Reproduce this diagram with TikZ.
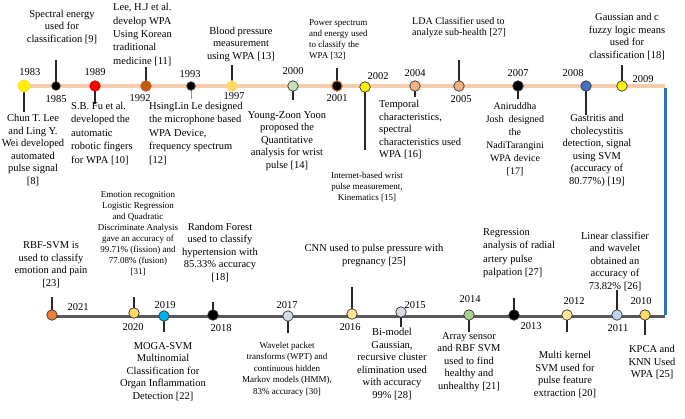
\documentclass[tikz,border=0pt]{standalone}
\usepackage{fontspec}
\setmainfont{Liberation Serif}
\definecolor{peach}{RGB}{248,203,173}
\definecolor{ribbon}{RGB}{46,117,182}
\definecolor{slate}{RGB}{89,89,89}
\definecolor{rust}{RGB}{197,90,17}
\definecolor{tangerine}{RGB}{237,125,49}
\definecolor{salmon}{RGB}{244,177,131}
\definecolor{butter}{RGB}{255,217,102}
\definecolor{cream}{RGB}{255,230,153}
\definecolor{sage}{RGB}{197,224,180}
\definecolor{leaf}{RGB}{169,209,142}
\definecolor{royal}{RGB}{68,114,196}
\definecolor{sky}{RGB}{0,176,240}
\definecolor{mist}{RGB}{214,220,229}
\definecolor{ice}{RGB}{189,215,238}
\definecolor{ink}{RGB}{40,40,40}

\begin{document}
\begin{tikzpicture}[x=1pt,y=-1pt,
  dot/.style={circle,draw=black!80,line width=0.7pt,minimum size=10.5pt,inner sep=0pt},
  yr/.style={font=\fontsize{10.5}{12}\selectfont,inner sep=0pt},
  txt/.style={align=center,font=\fontsize{10.5}{12.6}\selectfont,inner sep=0pt},
  loose/.style={align=left,font=\fontsize{10.5}{13.4}\selectfont,inner sep=0pt},
  note/.style={align=center,font=\fontsize{9}{11}\selectfont,inner sep=0pt},
  stalk/.style={draw=ink,line width=1.1pt}]
\useasboundingbox (0,0) rectangle (685,418);

% the ribbon
\coordinate (tl) at (20,86);
\coordinate (tr) at (665,86);
\coordinate (br) at (665,316);
\coordinate (bl) at (52,316);
\draw[peach,line width=3.5pt] (tl) -- (tr);
\draw[ribbon,line width=3pt] ([yshift=-1.5pt]tr) -- ([yshift=1.5pt]br);
\draw[slate,line width=3pt] (br) -- (bl);

% upper row: stems (drawn first, dots sit on top)
\coordinate (c1983) at (24,86);   \coordinate (s1983) at (24,112);
\coordinate (c1985) at (56,86);   \coordinate (s1985) at (56,60);
\coordinate (c1989) at (95,86);   \coordinate (s1989) at (95,104);
\coordinate (c1992) at (146,86);  \coordinate (s1992) at (146,67);
\coordinate (c1993) at (191,86);  \coordinate (s1993) at (191,99);
\coordinate (c1997) at (232,86);  \coordinate (s1997) at (232,65);
\coordinate (c2000) at (293,86);  \coordinate (s2000) at (293,100);
\coordinate (c2001) at (337,86);  \coordinate (s2001) at (337,68);
\coordinate (c2002) at (365,87);  \coordinate (s2002) at (365,150);
\coordinate (c2004) at (415,86);  \coordinate (s2004) at (415,97);
\coordinate (c2005) at (459,86);  \coordinate (s2005) at (459,60);
\coordinate (c2007) at (518,86);  \coordinate (s2007) at (518,99);
\coordinate (c2008) at (586,86);  \coordinate (s2008) at (586,115);
\coordinate (c2009) at (622,86);  \coordinate (s2009) at (622,65);
\draw[stalk] (c1983) -- (s1983);
\draw[stalk] (c1985) -- (s1985);
\draw[stalk] (c1989) -- (s1989);
\draw[stalk] (c1992) -- (s1992);
\draw[stalk,draw=tangerine,line width=0.9pt] (c1993) -- (s1993);
\draw[stalk] (c1997) -- (s1997);
\draw[stalk] (c2000) -- (s2000);
\draw[stalk] (c2001) -- (s2001);
\draw[stalk] (c2002) -- (s2002);
\draw[stalk] (c2004) -- (s2004);
\draw[stalk] (c2005) -- (s2005);
\draw[stalk] (c2007) -- (s2007);
\draw[stalk] (c2008) -- (s2008);
\draw[stalk] (c2009) -- (s2009);

% upper row: dots
\node[dot,fill=yellow,draw=butter,minimum size=12pt] (d1983) at (c1983) {};
\node[dot,fill=black,minimum size=8.5pt] (d1985) at (c1985) {};
\node[dot,fill=red,draw=red!80!black] (d1989) at (c1989) {};
\node[dot,fill=rust,draw=rust] (d1992) at (c1992) {};
\node[dot,fill=black,minimum size=8.5pt] (d1993) at (c1993) {};
\node[dot,fill=butter,draw=butter] (d1997) at (c1997) {};
\node[dot,fill=sage] (d2000) at (c2000) {};
\node[dot,fill=black,draw=tangerine,line width=1pt] (d2001) at (c2001) {};
\node[dot,fill=yellow] (d2002) at (c2002) {};
\node[dot,fill=salmon] (d2004) at (c2004) {};
\node[dot,fill=salmon] (d2005) at (c2005) {};
\node[dot,fill=black] (d2007) at (c2007) {};
\node[dot,fill=royal] (d2008) at (c2008) {};
\node[dot,fill=yellow] (d2009) at (c2009) {};

% upper row: years
\node[yr] (y1983) at (30,72) {1983};
\node[yr] (y1985) at (56,99) {1985};
\node[yr] (y1989) at (95,72) {1989};
\node[yr] (y1992) at (140,98) {1992};
\node[yr] (y1993) at (190,74) {1993};
\node[yr] (y1997) at (234,96) {1997};
\node[yr] (y2000) at (293,71) {2000};
\node[yr] (y2001) at (337,98) {2001};
\node[yr] (y2002) at (378,76) {2002};
\node[yr] (y2004) at (415,73) {2004};
\node[yr] (y2005) at (461,99) {2005};
\node[yr] (y2007) at (518,73) {2007};
\node[yr] (y2008) at (573,73) {2008};
\node[yr] (y2009) at (643,79) {2009};

% upper row: events
\node[txt,anchor=north] (t1983) at (33,114) {Chun T. Lee\\and Ling Y.\\Wei developed\\automated\\pulse signal\\{[8]}};
\node[txt,anchor=south] (t1985) at (62,44) {Spectral energy\\used for\\classification [9]};
\node[loose,anchor=north west] (t1989) at (71,102) {S.B. Fu et al.\\developed the\\automatic\\robotic fingers\\for WPA [10]};
\node[loose,anchor=south west] (t1992) at (113,66) {Lee, H.J et al.\\develop WPA\\Using Korean\\traditional\\medicine [11]};
\node[loose,anchor=north west] (t1993) at (149,102) {HsingLin Le designed\\the microphone based\\WPA Device,\\frequency spectrum\\{[12]}};
\node[txt,anchor=south] (t1997) at (241,62) {Blood pressure\\measurement\\using WPA [13]};
\node[txt,anchor=north] (t2000) at (287,111) {Young-Zoon Yoon\\proposed the\\Quantitative\\analysis for wrist\\pulse [14]};
\node[note,align=left,anchor=south west] (t2001) at (309,60) {Power spectrum\\and energy used\\to classify the\\WPA [32]};
\node[note,anchor=north] (t2002) at (367,172) {Internet-based wrist\\pulse measurement,\\Kinematics [15]};
\node[txt,align=left,anchor=north west] (t2004) at (379,100) {Temporal\\characteristics,\\spectral\\characteristics used\\WPA [16]};
\node[txt,align=left,font=\fontsize{10}{11.5}\selectfont,anchor=south west] (t2005) at (412,38) {LDA Classifier used to\\analyze sub-health [27]};
\node[txt,font=\fontsize{10}{13}\selectfont,anchor=north] (t2007) at (515,102) {Aniruddha\\Josh~ designed\\the\\NadiTarangini\\WPA device\\{[17]}};
\node[txt,anchor=north] (t2008) at (597,114) {Gastritis and\\cholecystitis\\detection, signal\\using SVM\\(accuracy of\\80.77\%) [19]};
\node[txt,anchor=south] (t2009) at (627,60) {Gaussian and c\\fuzzy logic means\\used for\\classification [18]};

% lower row: stems
\coordinate (c2021) at (52,315);  \coordinate (s2021) at (52,297);
\coordinate (c2020) at (134,313); \coordinate (s2020) at (134,297);
\coordinate (c2019) at (164,316); \coordinate (s2019) at (164,332);
\coordinate (c2018) at (213,315); \coordinate (s2018) at (213,302);
\coordinate (c2017) at (288,316); \coordinate (s2017) at (288,333);
\coordinate (c2016) at (352,314); \coordinate (s2016) at (352,287);
\coordinate (c2015) at (401,312); \coordinate (s2015) at (401,327);
\coordinate (c2014) at (469,315); \coordinate (s2014) at (469,332);
\coordinate (c2013) at (514,315); \coordinate (s2013) at (514,298);
\coordinate (c2012) at (567,315); \coordinate (s2012) at (567,332);
\coordinate (c2011) at (617,315); \coordinate (s2011) at (617,290);
\coordinate (c2010) at (645,315); \coordinate (s2010) at (645,335);
\draw[stalk] (c2021) -- (s2021);
\draw[stalk] (c2020) -- (s2020);
\draw[stalk] (c2019) -- (s2019);
\draw[stalk] (c2018) -- (s2018);
\draw[stalk] (c2017) -- (s2017);
\draw[stalk] (c2016) -- (s2016);
\draw[stalk] (c2015) -- (s2015);
\draw[stalk] (c2014) -- (s2014);
\draw[stalk] (c2013) -- (s2013);
\draw[stalk] (c2012) -- (s2012);
\draw[stalk] (c2011) -- (s2011);
\draw[stalk] (c2010) -- (s2010);

% lower row: dots
\node[dot,fill=tangerine] (d2021) at (c2021) {};
\node[dot,fill=butter] (d2020) at (c2020) {};
\node[dot,fill=sky] (d2019) at (c2019) {};
\node[dot,fill=black] (d2018) at (c2018) {};
\node[dot,fill=mist] (d2017) at (c2017) {};
\node[dot,fill=cream] (d2016) at (c2016) {};
\node[dot,fill=mist] (d2015) at (c2015) {};
\node[dot,fill=leaf] (d2014) at (c2014) {};
\node[dot,fill=black] (d2013) at (c2013) {};
\node[dot,fill=cream] (d2012) at (c2012) {};
\node[dot,fill=ice] (d2011) at (c2011) {};
\node[dot,fill=butter] (d2010) at (c2010) {};

% lower row: years
\node[yr] (y2021) at (78,307) {2021};
\node[yr,fill=white,inner sep=1.5pt] (y2020) at (133,327) {2020};
\node[yr] (y2019) at (165,305) {2019};
\node[yr] (y2018) at (221,328) {2018};
\node[yr] (y2017) at (287,305) {2017};
\node[yr] (y2016) at (350,327) {2016};
\node[yr] (y2015) at (415,305) {2015};
\node[yr] (y2014) at (470,299) {2014};
\node[yr] (y2013) at (531,326) {2013};
\node[yr] (y2012) at (574,301) {2012};
\node[yr] (y2011) at (618,328) {2011};
\node[yr] (y2010) at (641,301) {2010};

% lower row: events
\node[txt,anchor=south] (t2021) at (51,288) {RBF-SVM is\\used to classify\\emotion and pain\\{[23]}};
\node[note,anchor=south] (t2020) at (138,276) {Emotion recognition\\Logistic Regression\\and Quadratic\\Discriminate Analysis\\gave an accuracy of\\99.71\% (fission) and\\77.08\% (fusion)\\{[31]}};
\node[txt,anchor=north] (t2019) at (163,342) {MOGA-SVM\\Multinomial\\Classification for\\Organ Inflammation\\Detection [22]};
\node[txt,anchor=south] (t2018) at (220,282) {Random Forest\\used to classify\\hypertension with\\85.33\% accuracy\\{[18]}};
\node[note,font=\fontsize{9}{11.5}\selectfont,anchor=north] (t2017) at (287,342) {Wavelet packet\\transforms (WPT) and\\continuous hidden\\Markov models (HMM),\\83\% accuracy [30]};
\node[txt,anchor=south] (t2016) at (374,267) {CNN used to pulse pressure with\\pregnancy [25]};
\node[txt,anchor=north] (t2015) at (392,328) {Bi-model\\Gaussian,\\recursive cluster\\elimination used\\with accuracy\\99\% [28]};
\node[txt,anchor=north] (t2014) at (469,332) {Array sensor\\and RBF SVM\\used to find\\healthy and\\unhealthy [21]};
\node[loose,anchor=south west] (t2013) at (483,278) {Regression\\analysis of radial\\artery pulse\\palpation [27]};
\node[txt,anchor=north] (t2012) at (565,351) {Multi kernel\\SVM used for\\pulse feature\\extraction [20]};
\node[txt,anchor=south] (t2011) at (615,291) {Linear classifier\\and wavelet\\obtained an\\accuracy of\\73.82\% [26]};
\node[txt,anchor=north] (t2010) at (652,345) {KPCA and\\KNN Used\\WPA [25]};
\end{tikzpicture}
\end{document}
